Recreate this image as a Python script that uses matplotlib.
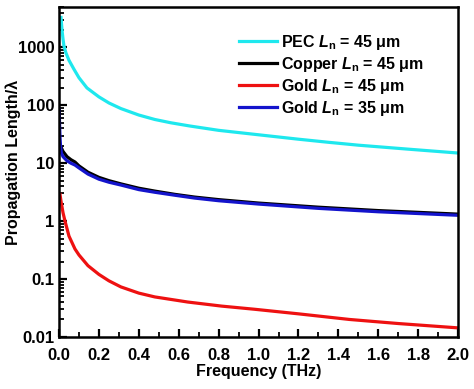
# Propagation length vs frequency for PEC, copper and gold wires
import numpy as np
import matplotlib
matplotlib.use('Agg')
import matplotlib.pyplot as plt
from matplotlib.ticker import FixedLocator, FixedFormatter, LogLocator, MultipleLocator

# fonts: bold sans everywhere, bold italic for the L in the legend
plt.rcParams['font.family'] = 'Liberation Sans'
plt.rcParams['font.weight'] = 'bold'
plt.rcParams['mathtext.fontset'] = 'custom'
plt.rcParams['mathtext.rm'] = 'Liberation Sans:bold'
plt.rcParams['mathtext.it'] = 'Liberation Sans:bold:italic'
plt.rcParams['mathtext.bf'] = 'Liberation Sans:bold'

# data (frequency in THz, propagation length / lambda)
pec_f = [0.01, 0.015, 0.02, 0.025, 0.035, 0.05, 0.075, 0.1, 0.14, 0.2, 0.25, 0.31,
         0.4, 0.48, 0.56, 0.655, 0.8, 1.0, 1.2, 1.35, 1.5, 1.75, 2.0]
pec_v = [3300, 2000, 1400, 1050, 800, 600, 420, 300, 200, 140, 110, 88,
         68, 57, 50, 44, 37, 31, 26, 23, 20.5, 17.5, 15]

cu_f = [0.005, 0.01, 0.02, 0.04, 0.06, 0.08, 0.1, 0.145, 0.2, 0.25, 0.31, 0.4,
        0.48, 0.58, 0.68, 0.8, 1.0, 1.3, 1.6, 2.0]
cu_v = [21, 19, 16, 13, 11.5, 10.5, 9, 7, 5.7, 5, 4.4, 3.7,
        3.3, 2.9, 2.6, 2.35, 2.05, 1.74, 1.52, 1.32]

au45_f = [0.005, 0.01, 0.02, 0.03, 0.05, 0.08, 0.1, 0.145, 0.2, 0.25, 0.31, 0.4,
          0.48, 0.645, 0.815, 0.98, 1.2, 1.455, 1.7, 2.0]
au45_v = [2.9, 2.2, 1.4, 1.0, 0.55, 0.33, 0.26, 0.17, 0.12, 0.093, 0.073, 0.057,
          0.049, 0.040, 0.034, 0.030, 0.025, 0.020, 0.017, 0.0143]

au35_f = [0.001, 0.003, 0.005, 0.008, 0.012, 0.02, 0.04, 0.06, 0.08, 0.1, 0.145, 0.2,
          0.25, 0.31, 0.4, 0.48, 0.58, 0.68, 0.8, 1.0, 1.3, 1.6, 2.0]
au35_v = [85, 45, 28, 19, 15, 13, 11, 10, 9.3, 8.3, 6.5, 5.3,
          4.7, 4.2, 3.5, 3.15, 2.8, 2.5, 2.25, 1.97, 1.66, 1.45, 1.26]

ytick_vals = [0.01, 0.1, 1, 10, 100, 1000]
ytick_labels = ['0.01', '0.1', '1', '10', '100', '1000']

fig = plt.figure(figsize=(4.74, 3.89), dpi=100)
ax = fig.add_axes([0.1245, 0.134, 0.842, 0.848])

lw = 2.3
ax.plot(pec_f, pec_v, color='#1ee8ee', lw=lw, label=r'PEC $L_{\mathrm{n}}$ = 45 $\mathrm{\mu}$m')
ax.plot(cu_f, cu_v, color='black', lw=lw, label=r'Copper $L_{\mathrm{n}}$ = 45 $\mathrm{\mu}$m')
ax.plot(au45_f, au45_v, color='#ee1111', lw=lw, label=r'Gold $L_{\mathrm{n}}$ = 45 $\mathrm{\mu}$m')
ax.plot(au35_f, au35_v, color='#1414cc', lw=lw, label=r'Gold $L_{\mathrm{n}}$ = 35 $\mathrm{\mu}$m')

ax.set_yscale('log')
ax.set_xlim(0, 2.0)
ax.set_ylim(0.01, 5000)

# ticks
ax.xaxis.set_major_locator(MultipleLocator(0.2))
ax.xaxis.set_minor_locator(MultipleLocator(0.1))
ax.xaxis.set_major_formatter(plt.FuncFormatter(lambda v, p: '%.1f' % v))
ax.yaxis.set_major_locator(FixedLocator(ytick_vals))
ax.yaxis.set_major_formatter(FixedFormatter(ytick_labels))
ax.yaxis.set_minor_locator(LogLocator(base=10, subs=np.arange(2, 10)))
ax.yaxis.set_minor_formatter(plt.NullFormatter())
ax.tick_params(which='both', direction='in', top=False, right=False, labelsize=12)
ax.tick_params(axis='x', which='major', pad=8)
ax.tick_params(which='major', length=6, width=1.6)
ax.tick_params(which='minor', length=3.5, width=1.3)
for lab in ax.get_xticklabels() + ax.get_yticklabels():
    lab.set_fontweight('bold')
for sp in ax.spines.values():
    sp.set_linewidth(1.8)

ax.set_xlabel('Frequency (THz)', fontsize=11.5, fontweight='bold', labelpad=1)
ax.set_ylabel('Propagation Length/λ', fontsize=11.5, fontweight='bold')
ax.yaxis.set_label_coords(-0.095, 0.53)

leg = ax.legend(loc='upper left', frameon=False, fontsize=11.5, handlelength=2.4,
                handletextpad=0.25, labelspacing=0.18, bbox_to_anchor=(0.414, 0.965))

fig.savefig('out.png', dpi=100)
